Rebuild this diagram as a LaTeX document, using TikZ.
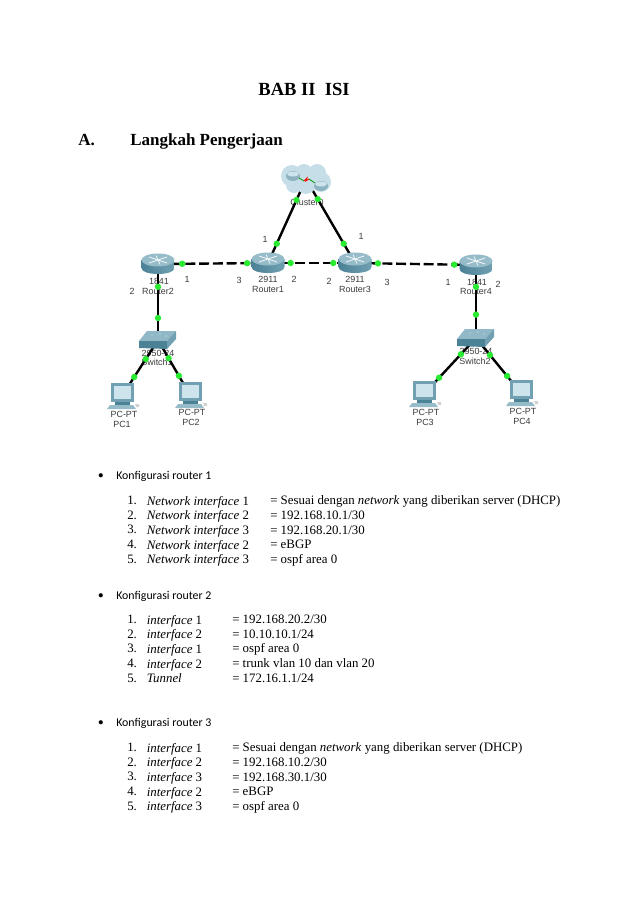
\documentclass[tikz,border=0pt]{standalone}
\usepackage{fontspec}
\usepackage{xcolor}
\setmainfont{Liberation Serif}
\newfontfamily\calibrifont{Carlito}
\newfontfamily\devicefont{Liberation Sans}
\definecolor{linkgreen}{RGB}{40,235,50}
\definecolor{iconteal}{RGB}{112,160,178}
\definecolor{icondark}{RGB}{76,130,150}
\definecolor{icontop}{RGB}{150,188,202}
\definecolor{iconlight}{RGB}{205,228,236}
\definecolor{cloudblue}{RGB}{198,222,232}
\definecolor{labelgray}{RGB}{60,60,60}
\tikzset{
  link/.style={line width=1.8pt,black},
  dashlink/.style={link,dash pattern=on 7.5pt off 2.8pt},
  linkdot/.style={circle,fill=linkgreen,draw=none,minimum size=4.8pt,inner sep=0pt},
  devlabel/.style={font=\devicefont\fontsize{6.7}{8}\selectfont,text=labelgray,inner sep=0pt},
  portlabel/.style={devlabel},
  title/.style={font=\bfseries\fontsize{12.75}{15}\selectfont,inner sep=0pt},
  bigtitle/.style={font=\bfseries\fontsize{13.9}{16}\selectfont,inner sep=0pt},
  bullettext/.style={font=\calibrifont\fontsize{8.9}{10}\selectfont,anchor=base west,inner sep=0pt},
  bulletmark/.style={font=\fontsize{13}{13}\selectfont,anchor=base,inner sep=0pt},
  listcol/.style={font=\fontsize{9.65}{11}\selectfont,anchor=north west,align=left,inner sep=0pt,
    execute at begin node=\strut},
  routericon/.pic={
    \path[left color=icondark,middle color=iconlight,right color=iconteal]
      (-16.5,-4) -- (-16.5,4) .. controls (-16.5,12) and (16.5,12) .. (16.5,4) -- (16.5,-4) -- cycle;
    \fill[icontop] (0,-4) ellipse [x radius=16.5,y radius=6.5];
    \draw[white!85!icontop,line width=.6pt] (-9,-7) -- (9,-1) (-9,-1) -- (9,-7) (-2,-8.5) -- (2,.5);
  },
  switchicon/.pic={
    \fill[icontop!85!iconteal] (-11,-9) -- (18,-9) -- (9,1) -- (-19,1) -- cycle;
    \fill[icondark] (-19,1) -- (9,1) -- (9,9) -- (-19,8) -- cycle;
    \fill[iconteal] (18,-9) -- (18,-1) -- (9,9) -- (9,1) -- cycle;
    \fill[white!80!iconteal] (-6,-5) circle (.7) (2,-6) circle (.7) (8,-4) circle (.7);
  },
  pcicon/.pic={
    \fill[iconteal] (-11,-13) rectangle (12,6);
    \fill[iconlight] (-8,-10.5) rectangle (9,2.5);
    \fill[icondark] (-7,6) rectangle (8,9);
    \fill[icontop] (-12,9) -- (11,9) -- (14,13) -- (-15,13) -- cycle;
    \fill[gray!35] (13,8) -- (17,8) -- (17,11) -- (14,11) -- cycle;
  },
  cloudicon/.pic={
    \fill[cloudblue] (-14,-3) circle (11) (-2,-7) circle (8) (11,-6) circle (9) (15,3) circle (10)
      (0,5) circle (10) (-12,6) circle (8);
    \fill[iconteal!80] (-13,-3) ellipse [x radius=7,y radius=5];
    \fill[iconlight] (-13,-5) ellipse [x radius=6,y radius=2.4];
    \fill[iconteal!80] (15,7) ellipse [x radius=7,y radius=5];
    \fill[iconlight] (15,5) ellipse [x radius=6,y radius=2.4];
    \draw[green!60!black,line width=.6pt] (-7,-1) -- (-2,2);
    \draw[red,line width=.6pt] (-2,2) -- (1,-1) -- (0,2) -- (3,0);
    \draw[green!60!black,line width=.6pt] (3,0) -- (9,4);
  }
}

\begin{document}
\begin{tikzpicture}[x=.75pt,y=-.75pt]
  \useasboundingbox[fill=white] (0,0) rectangle (638,902);

  \node[bigtitle,anchor=base] (babtitle) at (304,96) {BAB II\ \ ISI};
  \node[title,anchor=base west] (secletter) at (78,146) {A.};
  \node[title,anchor=base west] (sectitle) at (130,146) {Langkah Pengerjaan};

  % labels sit under the links
  \node[devlabel] (lblcluster) at (307,202) {Cluster0};
  \node[devlabel] (lblr2a) at (159,281) {1841};
  \node[devlabel] (lblr2b) at (158,291) {Router2};
  \node[devlabel] (lblr1a) at (268,279) {2911};
  \node[devlabel] (lblr1b) at (268,289) {Router1};
  \node[devlabel] (lblr3a) at (355,279) {2911};
  \node[devlabel] (lblr3b) at (355,289) {Router3};
  \node[devlabel] (lblr4a) at (477,282) {1841};
  \node[devlabel] (lblr4b) at (476,291) {Router4};
  \node[devlabel] (lblsw1a) at (158,353) {2950-24};
  \node[devlabel] (lblsw1b) at (157,362) {Switch1};
  \node[devlabel] (lblsw2a) at (476,351) {2950-24};
  \node[devlabel] (lblsw2b) at (475,361) {Switch2};
  \node[devlabel] (lblpc1a) at (124,414) {PC-PT};
  \node[devlabel] (lblpc1b) at (122,424) {PC1};
  \node[devlabel] (lblpc2a) at (192,412) {PC-PT};
  \node[devlabel] (lblpc2b) at (191,422) {PC2};
  \node[devlabel] (lblpc3a) at (426,412) {PC-PT};
  \node[devlabel] (lblpc3b) at (425,422) {PC3};
  \node[devlabel] (lblpc4a) at (523,411) {PC-PT};
  \node[devlabel] (lblpc4b) at (522,421) {PC4};

  \node[portlabel] (port1) at (187,279) {1};
  \node[portlabel] (port2) at (132,291) {2};
  \node[portlabel] (port3) at (239,280) {3};
  \node[portlabel] (port4) at (294,279) {2};
  \node[portlabel] (port5) at (265,239) {1};
  \node[portlabel] (port6) at (329,281) {2};
  \node[portlabel] (port7) at (361,236) {1};
  \node[portlabel] (port8) at (387,282) {3};
  \node[portlabel] (port9) at (448,282) {1};
  \node[portlabel] (port10) at (498,284) {2};

  \coordinate (cluster) at (306,179);
  \coordinate (router2) at (158,264);
  \coordinate (router1) at (268,263);
  \coordinate (router3) at (355,263);
  \coordinate (router4) at (476,265);
  \coordinate (switch1) at (158,340);
  \coordinate (switch2) at (476,338);
  \coordinate (pc1) at (122,396);
  \coordinate (pc2) at (190,395);
  \coordinate (pc3) at (424,394);
  \coordinate (pc4) at (521,393);

  \draw[dashlink] (router2) -- node[linkdot,pos=.22] (d1) {} node[linkdot,pos=.81] (d2) {} (router1);
  \draw[dashlink] (router1) -- node[linkdot,pos=.26] (d3) {} node[linkdot,pos=.75] (d4) {} (router3);
  \draw[dashlink] (router3) -- node[linkdot,pos=.19] (d5) {} node[linkdot,pos=.82] (d6) {} (router4);
  \draw[link] (cluster) -- node[linkdot,pos=.25] (d7) {} node[linkdot,pos=.77] (d8) {} (router1);
  \draw[link] (cluster) -- node[linkdot,pos=.24] (d9) {} node[linkdot,pos=.77] (d10) {} (router3);
  \draw[link] (router2) -- node[linkdot,pos=.30] (d11) {} node[linkdot,pos=.71] (d12) {} (switch1);
  \draw[link] (router4) -- node[linkdot,pos=.30] (d13) {} node[linkdot,pos=.68] (d14) {} (switch2);
  \draw[link] (switch1) -- node[linkdot,pos=.34] (d15) {} node[linkdot,pos=.66] (d16) {} (pc1);
  \draw[link] (switch1) -- node[linkdot,pos=.33] (d17) {} node[linkdot,pos=.65] (d18) {} (pc2);
  \draw[link] (switch2) -- node[linkdot,pos=.29] (d19) {} node[linkdot,pos=.71] (d20) {} (pc3);
  \draw[link] (switch2) -- node[linkdot,pos=.31] (d21) {} node[linkdot,pos=.69] (d22) {} (pc4);

  \pic at (cluster) {cloudicon};
  \pic at (router2) {routericon};
  \pic at (router1) {routericon};
  \pic at (router3) {routericon};
  \pic at (router4) {routericon};
  \pic at (switch1) {switchicon};
  \pic at (switch2) {switchicon};
  \pic at (pc1) {pcicon};
  \pic at (pc2) {pcicon};
  \pic at (pc3) {pcicon};
  \pic at (pc4) {pcicon};

  \node[bulletmark] (bul1) at (101,481) {•};
  \node[bullettext] (kon1) at (116,479.5) {Konfigurasi router 1};
  \node[listcol] (numa) at (127,495.7) {1.\\2.\\3.\\4.\\5.};
  \node[listcol] (ifa) at (146.5,495.7) {\textit{Network interface} 1\\\textit{Network interface} 2\\\textit{Network interface} 3\\\textit{Network interface} 2\\\textit{Network interface} 3};
  \node[listcol] (vala) at (270,495.7) {= Sesuai dengan \textit{network} yang diberikan server (DHCP)\\= 192.168.10.1/30\\= 192.168.20.1/30\\= eBGP\\= ospf area 0};

  \node[bulletmark] (bul2) at (101,601) {•};
  \node[bullettext] (kon2) at (116,599.5) {Konfigurasi router 2};
  \node[listcol] (numb) at (127,614.7) {1.\\2.\\3.\\4.\\5.};
  \node[listcol] (ifb) at (146.5,614.7) {\textit{interface} 1\\\textit{interface} 2\\\textit{interface} 1\\\textit{interface} 2\\\textit{Tunnel}};
  \node[listcol] (valb) at (232,614.7) {= 192.168.20.2/30\\= 10.10.10.1/24\\= ospf area 0\\= trunk vlan 10 dan vlan 20\\= 172.16.1.1/24};

  \node[bulletmark] (bul3) at (101,728) {•};
  \node[bullettext] (kon3) at (116,726.5) {Konfigurasi router 3};
  \node[listcol] (numc) at (127,742.7) {1.\\2.\\3.\\4.\\5.};
  \node[listcol] (ifc) at (146.5,742.7) {\textit{interface} 1\\\textit{interface} 2\\\textit{interface} 3\\\textit{interface} 2\\\textit{interface} 3};
  \node[listcol] (valc) at (232,742.7) {= Sesuai dengan \textit{network} yang diberikan server (DHCP)\\= 192.168.10.2/30\\= 192.168.30.1/30\\= eBGP\\= ospf area 0};
\end{tikzpicture}
\end{document}
